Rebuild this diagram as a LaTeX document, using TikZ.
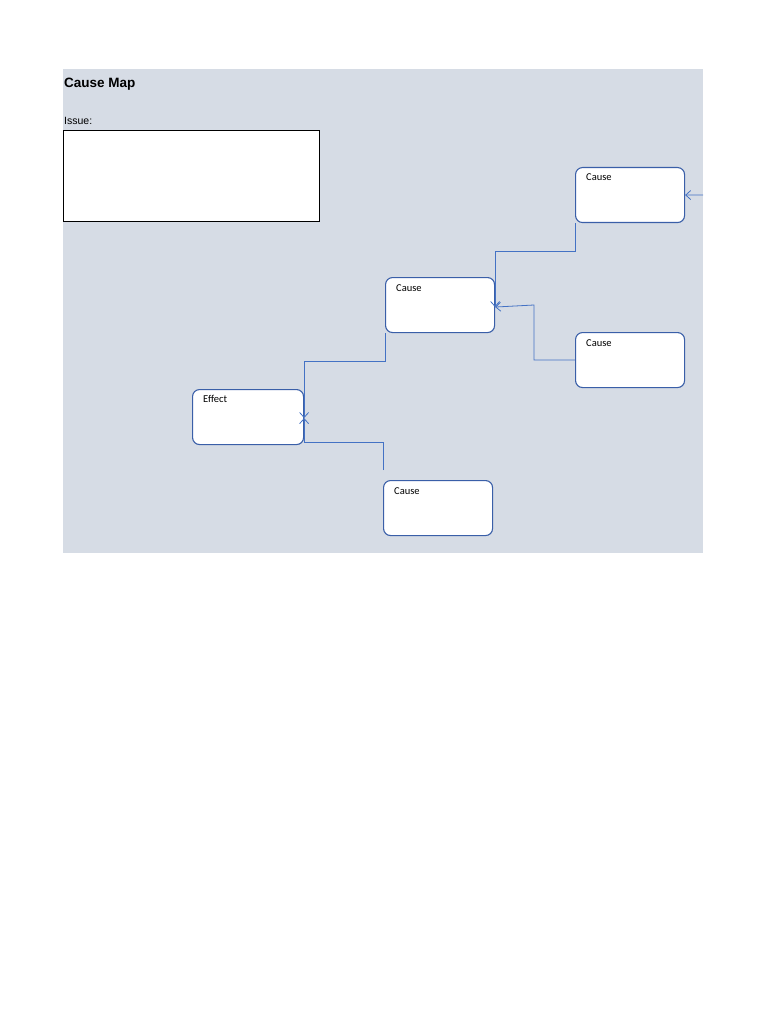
\documentclass[tikz,border=0pt]{standalone}
\usepackage{fontspec}
\setmainfont{Liberation Sans}
\newfontfamily\calfont{Carlito}
\usetikzlibrary{arrows.meta}
\definecolor{bg}{HTML}{D6DCE5}
\definecolor{bl}{HTML}{4472C4}
\definecolor{bd}{HTML}{3A5FA8}
\begin{document}
\begin{tikzpicture}[x=1pt,y=-1pt,
  cbox/.style={draw=bd,line width=1.1pt,fill=white,rounded corners=7pt,minimum width=109pt,minimum height=55pt,inner sep=0pt,anchor=north west},
  lbl/.style={anchor=north west,inner sep=0pt,font=\calfont\fontsize{10.5}{12}\selectfont},
  conn/.style={draw=bl,line width=0.8pt},
  arr/.style={conn,-{Straight Barb[length=5pt,width=9pt]}}]
\useasboundingbox (0,0) rectangle (768,1024);
\fill[bg] (63,69) rectangle (703,553);
\node[anchor=base west,inner sep=0pt,font=\bfseries\fontsize{13.5}{16}\selectfont] (title) at (64,88) {Cause Map};
\node[anchor=base west,inner sep=0pt,font=\fontsize{10.5}{12}\selectfont] (iss) at (64,125) {Issue:};
\node[draw=black,fill=white,line width=0.8pt,minimum width=256pt,minimum height=91pt,anchor=north west,inner sep=0pt] (issue) at (63,130) {};
\node[cbox] (c1) at (575,167) {};
\node[cbox] (c2) at (385,277) {};
\node[cbox] (c3) at (575,332) {};
\node[cbox,minimum width=111pt] (ef) at (192,389) {};
\node[cbox] (c5) at (383,480) {};
\node[lbl] (l1) at (586,173) {Cause};
\node[lbl] (l2) at (396,284) {Cause};
\node[lbl] (l3) at (586,339) {Cause};
\node[lbl] (l4) at (203,395) {Effect};
\node[lbl] (l5) at (394,487) {Cause};
\coordinate (inR) at (703,195);
\draw[arr] (inR) -- (c1.east);
\draw[arr] (c1.south west) -- ++(0,28) -| ([yshift=-2pt]c2.east);
\draw[arr] (c3.west) -| (534,305) -- ([yshift=-2pt]c2.east);
\draw[arr] (c2.south west) -- ++(0,28) -| ([yshift=-1pt]ef.east);
\draw[arr] ([yshift=10pt]c5.north west) -- ++(0,-28) -| ([yshift=-1pt]ef.east);
\end{tikzpicture}
\end{document}
